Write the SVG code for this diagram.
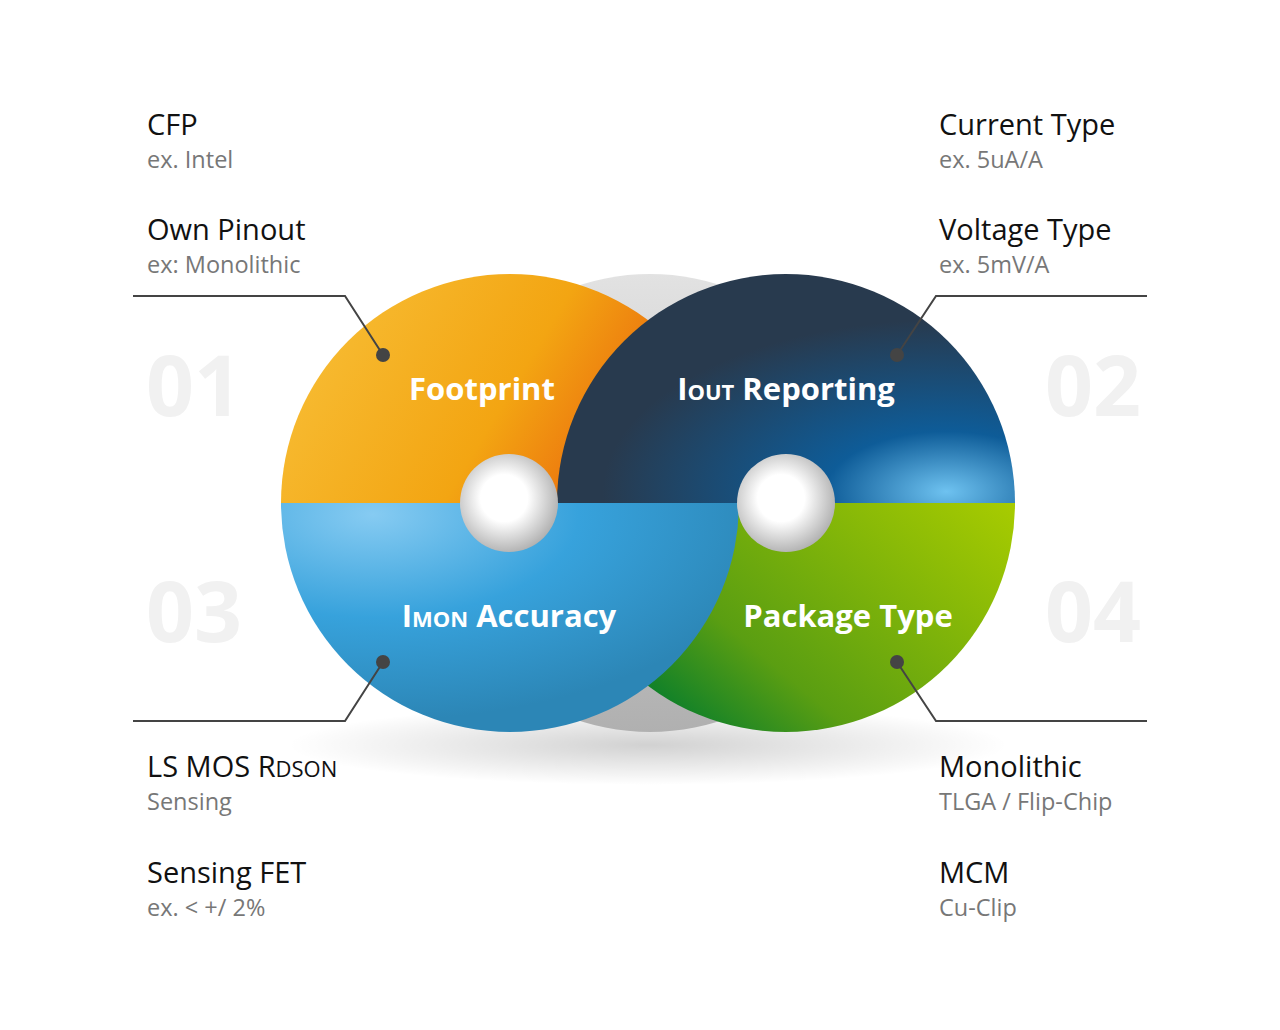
<svg xmlns="http://www.w3.org/2000/svg" width="1280" height="1030" viewBox="0 0 1280 1030">
<style>
.t{font-family:"Open Sans","Liberation Sans",sans-serif;font-size:29px;fill:#111}
.s{font-family:"Open Sans","Liberation Sans",sans-serif;font-size:23.5px;fill:#777}
.n{font-family:"Open Sans","Liberation Sans",sans-serif;font-size:84px;font-weight:bold;fill:#f1f1f1}
.w{font-family:"Open Sans","Liberation Sans",sans-serif;font-size:31px;font-weight:bold;fill:#fff}
.ln{fill:none;stroke:#444;stroke-width:2}
</style>
<defs>
<linearGradient id="or" x1="0" y1="0" x2="1" y2="0.3"><stop offset="0" stop-color="#f8c23c"/><stop offset="0.6" stop-color="#f3a512"/><stop offset="1" stop-color="#e85a0c"/></linearGradient>
<radialGradient id="db" cx="0.85" cy="0.95" r="0.75"><stop offset="0" stop-color="#6ec2f0"/><stop offset="0.35" stop-color="#0e5c98"/><stop offset="1" stop-color="#283a4e"/></radialGradient>
<radialGradient id="lb" cx="0.2" cy="0.05" r="0.9"><stop offset="0" stop-color="#86cbf2"/><stop offset="0.5" stop-color="#37a2dc"/><stop offset="1" stop-color="#2c86b6"/></radialGradient>
<linearGradient id="gr" x1="0" y1="0.6" x2="1" y2="0"><stop offset="0" stop-color="#007a2e"/><stop offset="0.3" stop-color="#5a9e12"/><stop offset="1" stop-color="#a8cc00"/></linearGradient>
<radialGradient id="hub" cx="0.45" cy="0.45" r="0.6"><stop offset="0.4" stop-color="#fff"/><stop offset="1" stop-color="#aaa"/></radialGradient>
<radialGradient id="sh" cx="0.5" cy="0.5" r="0.5"><stop offset="0" stop-color="#000" stop-opacity="0.18"/><stop offset="1" stop-color="#000" stop-opacity="0"/></radialGradient>
<linearGradient id="gd" x1="0" y1="0" x2="0" y2="1"><stop offset="0" stop-color="#e2e2e2"/><stop offset="1" stop-color="#b0b0b0"/></linearGradient>
</defs>
<ellipse cx="648" cy="745" rx="360" ry="40" fill="url(#sh)"/>
<g id="shadowdisc"><circle cx="650" cy="503" r="229" fill="url(#gd)"/></g>
<g id="n1"><path d="M281,503 A229,229 0 0 1 739,503 Z" fill="url(#or)"/><text class="w" x="482" y="400" text-anchor="middle">Footprint</text></g>
<g id="n4"><path d="M557,503 A229,229 0 0 0 1015,503 Z" fill="url(#gr)"/><text class="w" x="848" y="627" text-anchor="middle">Package Type</text></g>
<g id="n2"><path d="M557,503 A229,229 0 0 1 1015,503 Z" fill="url(#db)"/><text class="w" x="786" y="400" text-anchor="middle">I<tspan font-size="22">OUT</tspan>  Reporting</text></g>
<g id="n3"><path d="M281,503 A229,229 0 0 0 739,503 Z" fill="url(#lb)"/><text class="w" x="509" y="627" text-anchor="middle">I<tspan font-size="22">MON</tspan> Accuracy</text></g>
<circle cx="509" cy="503" r="49" fill="url(#hub)"/>
<circle cx="786" cy="503" r="49" fill="url(#hub)"/>
<g id="connectors">
<polyline class="ln" points="133,296 345,296 383,355"/><circle cx="383" cy="355" r="7" fill="#444"/>
<polyline class="ln" points="133,721 345,721 383,662"/><circle cx="383" cy="662" r="7" fill="#444"/>
<polyline class="ln" points="1147,296 936,296 897,355"/><circle cx="897" cy="355" r="7" fill="#444"/>
<polyline class="ln" points="1147,721 936,721 897,662"/><circle cx="897" cy="662" r="7" fill="#444"/>
</g>
<text class="n" x="146" y="416">01</text><text class="n" x="1045" y="416">02</text>
<text class="n" x="146" y="642">03</text><text class="n" x="1045" y="642">04</text>
<text class="t" x="147" y="135">CFP</text><text class="s" x="147" y="168">ex. Intel</text>
<text class="t" x="147" y="240">Own Pinout</text><text class="s" x="147" y="273">ex: Monolithic</text>
<text class="t" x="939" y="135">Current Type</text><text class="s" x="939" y="168">ex. 5uA/A</text>
<text class="t" x="939" y="240">Voltage Type</text><text class="s" x="939" y="273">ex. 5mV/A</text>
<text class="t" x="147" y="777">LS MOS R<tspan font-size="22">DSON</tspan></text><text class="s" x="147" y="810">Sensing</text>
<text class="t" x="147" y="883">Sensing FET</text><text class="s" x="147" y="916">ex. &lt; +/ 2%</text>
<text class="t" x="939" y="777">Monolithic</text><text class="s" x="939" y="810">TLGA / Flip-Chip</text>
<text class="t" x="939" y="883">MCM</text><text class="s" x="939" y="916">Cu-Clip</text>
</svg>
